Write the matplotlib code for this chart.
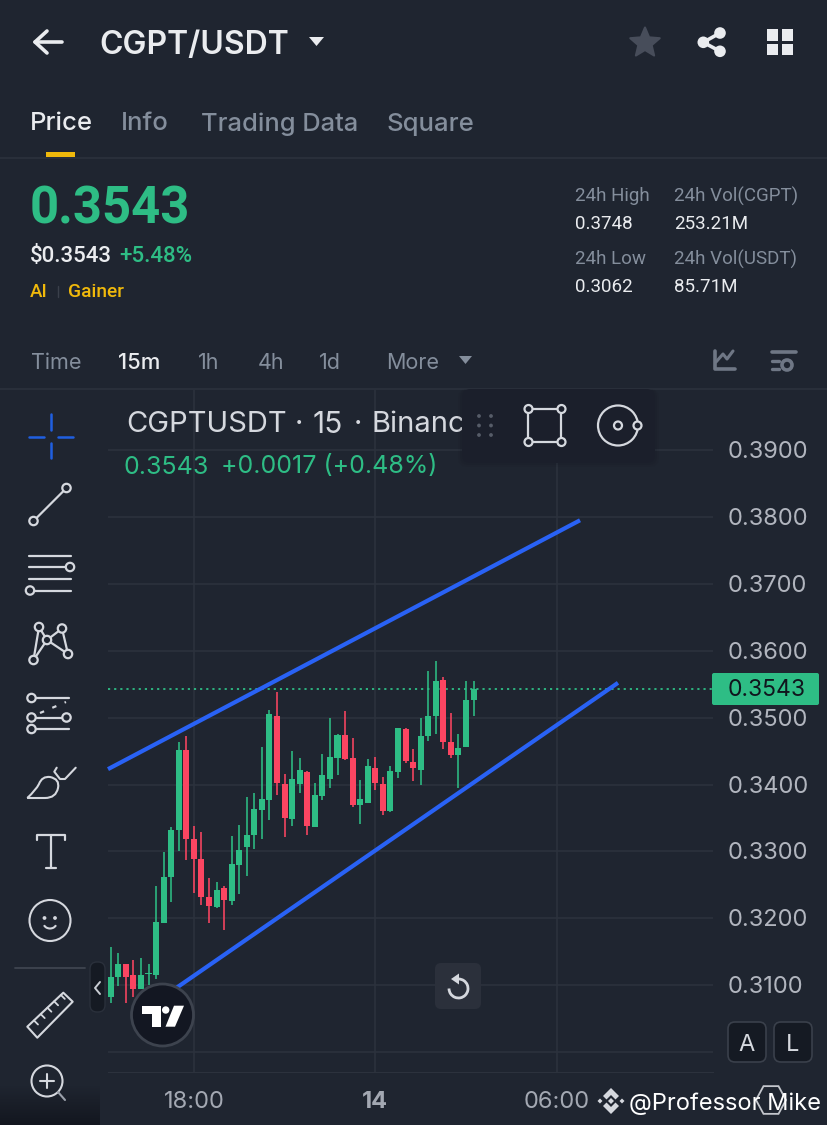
import matplotlib
matplotlib.use('Agg')
import matplotlib.pyplot as plt
from matplotlib.patches import Circle, FancyBboxPatch, Polygon, Rectangle, Arc, PathPatch
from matplotlib.path import Path
from matplotlib.transforms import ScaledTranslation
import numpy as np

plt.rcParams['font.family'] = ['Inter', 'DejaVu Sans']

# 15m candles
opens = [.3082, .3112, .3131, .3115, .3095, .3117, .3115, .3193, .3262, .3332,
         .3451, .3319, .3288, .3232, .3217, .3245, .3226, .3280, .3306, .3324,
         .3362, .3377, .3502, .3401, .3349, .3401, .3419, .3337, .3383, .3408,
         .3439, .3474, .3439, .3370, .3372, .3425, .3401, .3360, .3419, .3483,
         .3434, .3422, .3472, .3502, .3556, .3464, .3444, .3456, .3526]
highs = [.3157, .3148, .3132, .3138, .3140, .3131, .3248, .3299, .3337, .3464,
         .3472, .3338, .3329, .3260, .3255, .3249, .3323, .3339, .3381, .3388,
         .3456, .3512, .3538, .3416, .3450, .3440, .3420, .3402, .3446, .3500,
         .3475, .3510, .3469, .3407, .3438, .3441, .3411, .3428, .3485, .3485,
         .3453, .3499, .3570, .3585, .3560, .3507, .3476, .3555, .3554]
lows = [.3074, .3099, .3073, .3082, .3095, .3100, .3110, .3193, .3224, .3301,
        .3287, .3238, .3220, .3193, .3215, .3182, .3220, .3237, .3264, .3304,
        .3318, .3347, .3385, .3321, .3338, .3387, .3324, .3336, .3377, .3395,
        .3414, .3437, .3367, .3341, .3372, .3392, .3354, .3359, .3410, .3432,
        .3405, .3400, .3465, .3475, .3453, .3440, .3395, .3456, .3502]
closes = [.3113, .3131, .3112, .3094, .3115, .3118, .3194, .3262, .3332, .3451,
          .3319, .3288, .3232, .3219, .3243, .3228, .3281, .3302, .3324, .3363,
          .3378, .3506, .3402, .3350, .3408, .3422, .3338, .3385, .3414, .3441,
          .3474, .3438, .3369, .3378, .3428, .3402, .3360, .3420, .3484, .3435,
          .3425, .3473, .3502, .3555, .3464, .3444, .3455, .3527, .3543]

price_ticks = [.30, .31, .32, .33, .34, .35, .36, .37, .38, .39]
price_labels = ['', '0.3100', '0.3200', '0.3300', '0.3400', '0.3500', '0.3600', '0.3700', '0.3800', '0.3900']
time_ticks = [11, 35, 59]
time_labels = ['18:00', '14', '06:00']
last_price = .3543

# trend lines: candle index, price
upper_x = [-0.36, 62.08]
upper_y = [.3423, .3795]
lower_x = [6.5, 67.1]
lower_y = [.3079, .3552]

BG = '#1f2530'
GRID = '#2c323d'
GREEN = '#2ebd85'
RED = '#fb4561'
GRAY = '#848e9c'
WHITE = '#eaecef'
ICON = '#d5d8de'
BLUE = '#2962f5'
DARK = '#151a23'

W, H = 828, 1125
fig = plt.figure(figsize=(W / 100, H / 100), dpi=100, facecolor=BG)


def px_axes(left, top, right, bottom):
    return [left / W, 1 - bottom / H, (right - left) / W, (bottom - top) / H]


# ---- chart
ax = fig.add_axes(px_axes(108, 390, 712.7, 1072), zorder=1)
ax.patch.set_alpha(0)
ax.set_xlim(-0.36, 79.63)
ax.set_ylim(.29703, .39897)
for s in ax.spines.values():
    s.set_visible(False)
ax.spines['bottom'].set_visible(True)
ax.spines['bottom'].set_color(GRID)

ax.grid(True, color=GRID, lw=1.2)
ax.set_axisbelow(True)
ax.yaxis.tick_right()
ax.set_yticks(price_ticks)
ax.set_yticklabels(price_labels, color='#b1b5be', fontsize=17, va='center')
ax.set_xticks(time_ticks)
ax.set_xticklabels(time_labels, color='#a3a8b2', fontsize=17)
ax.get_xticklabels()[1].set_fontweight('bold')
ax.tick_params(axis='both', length=0)
ax.tick_params(axis='y', pad=10.5)
ax.tick_params(axis='x', pad=13.5)
# labels sit about 2px lower than plain centring
nudge = ScaledTranslation(0, -2 / 100, fig.dpi_scale_trans)
for lab in ax.get_yticklabels():
    lab.set_transform(lab.get_transform() + nudge)

idx = np.arange(len(opens))
o, h, l, c = map(np.array, (opens, highs, lows, closes))
colors = [GREEN if c[i] >= o[i] else RED for i in idx]
ax.vlines(idx, l, h, colors=colors, lw=1.35, alpha=0.85, zorder=3)
ax.bar(idx, np.maximum(np.abs(c - o), .0002), bottom=np.minimum(o, c), width=0.8,
       color=colors, zorder=4)

ax.axhline(last_price, color=GREEN, lw=1.3, dashes=(1.2, 2.2), zorder=2)
ax.plot(upper_x, upper_y, color=BLUE, lw=3, zorder=5, solid_capstyle='butt', clip_on=False)
ax.plot(lower_x, lower_y, color=BLUE, lw=3, zorder=5, solid_capstyle='butt')

# ---- everything around the chart, in screenshot pixels
ui = fig.add_axes([0, 0, 1, 1], zorder=2)
ui.set_xlim(0, W)
ui.set_ylim(H, 0)
ui.axis('off')
ui.patch.set_alpha(0)

# darker corner bottom left
grad = np.linspace(0, 1, 40).reshape(-1, 1)
rgba = np.zeros((40, 1, 4))
rgba[:, :, :3] = [0.07, 0.08, 0.11]
rgba[:, :, 3] = grad * 0.85
ui.imshow(rgba, extent=(0, 100, 1125, 1085), aspect='auto', zorder=0)
ui.set_xlim(0, W)
ui.set_ylim(H, 0)


def txt(x, y, s, color=WHITE, size=12, weight='normal', ha='left', z=3, family=None):
    ui.text(x, y + 2, s, color=color, fontsize=size, fontweight=weight, ha=ha, va='center', zorder=z,
            family=family if family else ['Inter', 'DejaVu Sans'])


def seg(xs, ys, color=ICON, lw=1.6, z=6, **kw):
    ui.plot(xs, ys, color=color, lw=lw, zorder=z, solid_capstyle='round', **kw)


def ring(x, y, r=4.2, color=ICON, lw=1.6, z=7, face=BG):
    ui.add_patch(Circle((x, y), r, fc=face, ec=color, lw=lw, zorder=z))


def box(x0, y0, x1, y1, face, edge='none', lw=0, rad=6, z=5):
    ui.add_patch(FancyBboxPatch((x0 + rad, y0 + rad), x1 - x0 - 2 * rad, y1 - y0 - 2 * rad,
                                boxstyle='round,pad=%d,rounding_size=%d' % (rad, rad),
                                fc=face, ec=edge, lw=lw, zorder=z))


# header
seg([35, 62], [42, 42], WHITE, 2.6)
seg([47, 35, 47], [31, 42, 53], WHITE, 2.6)
txt(99, 43, 'CGPT/USDT', WHITE, 23, 'semibold')
ui.add_patch(Polygon([(309, 37), (324, 37), (316.5, 46)], fc=WHITE, zorder=5))

star = []
for k in range(10):
    r = 15.5 if k % 2 == 0 else 7
    a = np.pi / 2 + k * np.pi / 5
    star.append((645 + r * np.cos(a), 43 - r * np.sin(a)))
ui.add_patch(Polygon(star, fc='#474d5a', ec='#474d5a', lw=1.5, joinstyle='round', zorder=5))

seg([720, 703.3, 720], [33, 42.3, 51.3], WHITE, 2.6)
for p in [(720, 33), (703.3, 42.3), (720, 51.3)]:
    ui.add_patch(Circle(p, 5.8, fc=WHITE, ec='none', zorder=6))
for gx in [767.3, 781.7]:
    for gy in [29.3, 44]:
        ui.add_patch(Rectangle((gx, gy), 11, 11.3, fc=WHITE, ec='none', zorder=6))

# tabs
txt(30, 122, 'Price', WHITE, 18.5, 'medium')
txt(121, 122, 'Info', GRAY, 18.5, 'medium')
txt(201, 122, 'Trading Data', GRAY, 18.3, 'medium')
txt(387, 122, 'Square', GRAY, 18.5, 'medium')
ui.add_patch(Rectangle((46, 152), 29, 5, fc='#f0b90b', ec='none', zorder=5))
seg([0, 828], [157.5, 157.5], GRID, 1.2, z=2)

# price block
R = ['Roboto', 'DejaVu Sans']
txt(30, 208, '0.3543', GREEN, 36.5, 'bold', family=R)
txt(30, 255, '$0.3543', WHITE, 16, 'medium', family=R)
txt(119, 255, '+5.48%', GREEN, 16, 'medium', family=R)
txt(30, 290, 'AI', '#f0b90b', 13.5, 'medium', family=R)
seg([58, 58], [286, 297], '#3a404b', 1)
txt(68, 290, 'Gainer', '#f0b90b', 13.8, 'medium', family=R)
txt(575, 194, '24h High', GRAY, 13.5, family=R)
txt(575, 222, '0.3748', WHITE, 13.5, family=R)
txt(575, 257, '24h Low', GRAY, 13.5, family=R)
txt(575, 285, '0.3062', WHITE, 13.5, family=R)
txt(674, 194, '24h Vol(CGPT)', GRAY, 13.5, family=R)
txt(674, 222, '253.21M', WHITE, 13.5, family=R)
txt(674, 257, '24h Vol(USDT)', GRAY, 13.5, family=R)
txt(674, 285, '85.71M', WHITE, 13.5, family=R)

# interval row
txt(31, 361, 'Time', GRAY, 15.5)
txt(118, 361, '15m', WHITE, 15.8, 'medium')
txt(198, 361, '1h', GRAY, 15.5)
txt(258, 361, '4h', GRAY, 15.5)
txt(319, 361, '1d', GRAY, 15.5)
txt(386, 361, 'More', GRAY, 15.5)
ui.add_patch(Polygon([(459, 356), (472, 356), (465.5, 364)], fc=GRAY, zorder=5))
seg([715, 715, 735], [351, 369, 369], '#6f7785', 2.6)
seg([716, 723, 727, 733], [362, 354, 359, 351], '#6f7785', 2.2)
seg([772, 796], [352, 352], '#6f7785', 2.6)
seg([772, 779], [361, 361], '#6f7785', 2.4)
seg([772, 779], [369, 369], '#6f7785', 2.4)
ring(787, 365, 5, '#6f7785', 2.6, face=BG)
seg([0, 828], [389, 389], GRID, 1.2, z=2)

# chart legend, the popup covers the end of it
LEG = '#d5d8de'
txt(126, 423, 'CGPTUSDT', LEG, 21, z=3)
txt(295, 423, '·', LEG, 21, z=3)
txt(313, 423, '15', LEG, 21.5, z=3)
txt(354, 423, '·', LEG, 21, z=3)
txt(372, 423, 'Binance', LEG, 21, z=3)
txt(124, 465, '0.3543', GREEN, 18, z=3)
txt(221, 465, '+0.0017 (+0.48%)', GREEN, 18, z=3)

# floating toolbar, with a soft shadow
for grow, alpha in [(4, .06), (2, .09)]:
    ui.add_patch(FancyBboxPatch((471 - grow, 398), 175 + 2 * grow, 56 + grow,
                                boxstyle='round,pad=9,rounding_size=9', fc='#10131a', ec='none', alpha=alpha, zorder=4))
box(462, 389, 655, 463, '#1b1f2b', rad=9, z=4)
for dx in [479, 491]:
    for dy in [416, 425.5, 435]:
        ui.add_patch(Circle((dx, dy), 1.9, fc='#565c68', ec='none', zorder=6))
ui.plot([528.5, 561.5, 561.5, 528.5, 528.5], [409, 409, 442, 442, 409], color=ICON, lw=1.6, zorder=6)
for p in [(528.5, 409), (561.5, 409), (528.5, 442), (561.5, 442)]:
    ring(p[0], p[1], 4, face='#1b1f2b')
ui.add_patch(Circle((618, 425.5), 20, fc='none', ec=ICON, lw=1.6, zorder=6))
ring(618, 425.5, 4, face='#1b1f2b')
ring(637.5, 425.5, 4, face='#1b1f2b')

# last price tag
box(712, 673, 819, 705, GREEN, rad=2, z=6)
txt(767, 688.5, '0.3543', '#10151d', 16.5, ha='center', z=7)

# left tools
CROSS = '#1f5fe0'
seg([51, 51], [414, 429.5], CROSS, 1.8)
seg([51, 51], [443, 458], CROSS, 1.8)
seg([29, 44.5], [436.5, 436.5], CROSS, 1.8)
seg([58, 73], [436.5, 436.5], CROSS, 1.8)

seg([33.5, 66.5], [521, 488])
ring(33.5, 521)
ring(66.5, 488)

seg([29, 71], [555.5, 555.5])
seg([29, 70], [567, 567])
seg([29, 71], [579, 579])
seg([30, 71], [590.5, 590.5])
ring(70, 567)
ring(30, 590.5)

web = [(39, 627), (62, 628.5), (47, 640), (68, 654), (33.5, 660)]
for a, b in [(0, 4), (0, 2), (2, 1), (1, 3), (2, 3), (2, 4)]:
    seg([web[a][0], web[b][0]], [web[a][1], web[b][1]])
for p in web:
    ring(p[0], p[1])

seg([31.5, 69], [698, 698])
seg([31.5, 66.5], [717.5, 717.5])
seg([31.5, 69], [729, 729])
seg([40, 66], [713, 702], ICON, 1.6, linestyle=(0, (2, 4)))
ring(31.5, 698)
ring(31.5, 717.5)
ring(66.5, 717.5)
ring(31.5, 729)

# brush
leaf = Path([(27.3, 798), (36, 790), (39, 784), (42, 776), (50, 777), (60, 779), (58, 788), (56, 798), (45, 798), (27.3, 798)],
            [Path.MOVETO, Path.CURVE3, Path.CURVE3, Path.CURVE3, Path.CURVE3, Path.CURVE3, Path.CURVE3, Path.CURVE3, Path.CURVE3, Path.LINETO])
ui.add_patch(PathPatch(leaf, fc='none', ec=ICON, lw=1.5, zorder=6))
seg([56.7, 54.3, 60, 65, 75.7], [767.7, 771.7, 779, 779, 767.7], ICON, 1.5)

seg([37, 37, 65, 65], [840, 835, 835, 840])
seg([51, 51], [835, 868])
seg([46, 56], [868, 868])

ui.add_patch(Circle((50, 920.5), 20.5, fc='none', ec=ICON, lw=1.5, zorder=6))
ui.add_patch(Circle((44.5, 918), 1.9, fc=ICON, ec='none', zorder=6))
ui.add_patch(Circle((55, 918), 1.9, fc=ICON, ec='none', zorder=6))
ui.add_patch(Arc((50, 923), 13, 11, theta1=20, theta2=160, ec=ICON, lw=1.5, zorder=6))

seg([15, 85], [967.5, 967.5], '#3f4550', 1.3)

box(90, 962, 105, 1012, DARK, '#2a303b', 1, rad=7, z=6)
seg([100, 95, 100], [982, 988, 994], '#c8ccd3', 1.4, z=7)

ui.add_patch(Polygon([(27.3, 1026.7), (63.3, 992.7), (72.7, 1001.7), (37.3, 1037.7)], fc='none', ec=ICON,
                     lw=1.5, joinstyle='round', zorder=6))
for k in range(5):
    tx = 34 + k * 6.7
    ty = 1020.5 - k * 6.4
    seg([tx, tx + 4], [ty, ty + 4], ICON, 1.3)

ui.add_patch(Circle((47, 1081), 15.5, fc='none', ec=ICON, lw=1.5, zorder=6))
seg([40, 54], [1081, 1081], ICON, 1.5)
seg([47, 47], [1074, 1088], ICON, 1.5)
seg([58, 65], [1092, 1100], '#9aa0aa', 1.5)

# TradingView badge
ui.add_patch(Circle((162.5, 1015), 31, fc='#131722', ec='#3d434e', lw=2, zorder=8))
ui.add_patch(Polygon([(142.3, 1005.7), (160.7, 1005.7), (160.7, 1026.7), (151.7, 1026.7), (151.7, 1013.7), (142.3, 1013.7)],
                     fc='white', zorder=9))
ui.add_patch(Circle((165.7, 1010), 3.7, fc='white', zorder=9))
ui.add_patch(Polygon([(184, 1005.7), (175, 1026.7), (165.5, 1026.7), (174, 1005.7)], fc='white', zorder=9))

# reset button
box(435, 963, 481, 1009, '#2b303b', rad=6, z=6)
ui.add_patch(Arc((458.5, 988.5), 19, 19, theta1=-90, theta2=180, ec=ICON, lw=2, zorder=7))
ui.add_patch(Polygon([(459, 973.5), (459, 984.5), (451, 979)], fc=ICON, zorder=7))

# A / L buttons
box(728, 1022, 766, 1062, DARK, '#3a404b', 1.2, rad=7)
box(774, 1022, 812, 1062, DARK, '#3a404b', 1.2, rad=7)
txt(747, 1043, 'A', '#d5d8de', 17, ha='center', z=7)
txt(793, 1043, 'L', '#d5d8de', 17, ha='center', z=7)

# watermark
LOGO = '#d5d8de'
ui.add_patch(Polygon([(611, 1088), (619, 1096), (615.5, 1099.5), (611, 1095), (606.5, 1099.5), (603, 1096)], fc=LOGO, zorder=7))
ui.add_patch(Polygon([(611, 1114), (619, 1106), (615.5, 1102.5), (611, 1107), (606.5, 1102.5), (603, 1106)], fc=LOGO, zorder=7))
for cx, r in [(600, 2.5), (622, 2.5), (611, 3)]:
    ui.add_patch(Polygon([(cx, 1101 - r), (cx + r, 1101), (cx, 1101 + r), (cx - r, 1101)], fc=LOGO, ec='none', zorder=7))
hexa = [(771 + 15 * np.cos(a), 1100 + 16 * np.sin(a)) for a in np.radians([0, 60, 120, 180, 240, 300])]
ui.add_patch(Polygon(hexa, fc='none', ec='#c4c7cd', lw=1.3, zorder=6))
txt(629, 1102, '@Professor Mike', 'white', 17, z=8)

fig.savefig('out.png', dpi=100, facecolor=BG)
